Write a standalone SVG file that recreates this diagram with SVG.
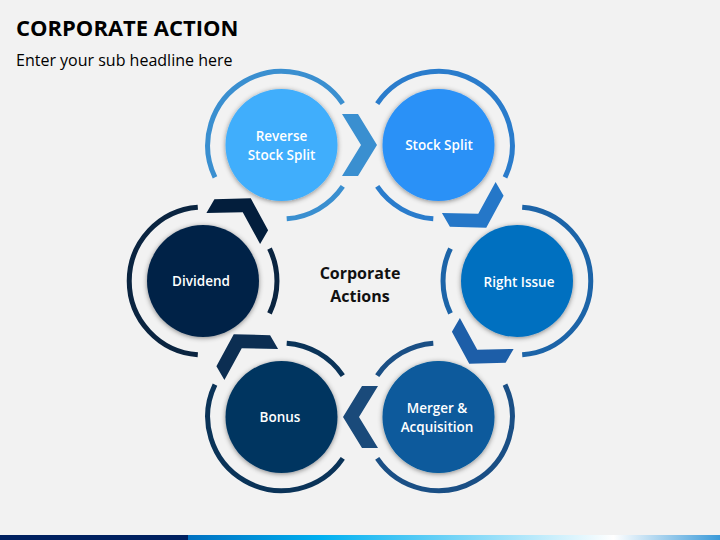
<svg xmlns="http://www.w3.org/2000/svg" width="720" height="540" viewBox="0 0 720 540">
<defs>
<style>
.ring{fill:none;stroke-width:5}
.lbl{font-family:"Open Sans","Liberation Sans",sans-serif;font-weight:600;font-size:13.5px;fill:#fff;text-anchor:middle}
.ctr{font-family:"Open Sans","Liberation Sans",sans-serif;font-weight:700;font-size:16px;fill:#111;text-anchor:middle}
</style>
<filter id="sh" x="-20%" y="-20%" width="140%" height="140%"><feDropShadow dx="0" dy="1" stdDeviation="2.5" flood-color="#000" flood-opacity="0.45"/></filter>
<polygon id="chev" points="-18,-31 -2,-31 17,0 -2,31 -18,31 1,0"/>
<linearGradient id="bar" x1="0" x2="1" y1="0" y2="0">
<stop offset="0" stop-color="#0070c0"/><stop offset="0.25" stop-color="#00b0f0"/><stop offset="0.8" stop-color="#ffffff"/><stop offset="1" stop-color="#3a9ad9"/>
</linearGradient>
</defs>
<rect width="720" height="540" fill="#f2f2f2"/>
<text x="16" y="36" font-family="Open Sans,Liberation Sans,sans-serif" font-weight="700" font-size="22" fill="#000">CORPORATE ACTION</text>
<text x="16" y="66" font-family="Open Sans,Liberation Sans,sans-serif" font-size="16" fill="#000">Enter your sub headline here</text>
<g id="connectors">
<use href="#chev" transform="translate(360,145)" fill="#3a8fd0"/>
<use href="#chev" transform="translate(477.75,213) rotate(60)" fill="#2577c8"/>
<use href="#chev" transform="translate(477.75,349) rotate(120)" fill="#1d5ea8"/>
<use href="#chev" transform="translate(360,417) rotate(180)" fill="#1a4a7a"/>
<use href="#chev" transform="translate(242.25,349) rotate(240)" fill="#0c2e52"/>
<use href="#chev" transform="translate(242.25,213) rotate(300)" fill="#031e3c"/>
</g>
<g id="reverse-stock-split">
<path class="ring" stroke="#3a8fd0" d="M215,177.4 A74,74 0 0 1 342.8,103.6 M342.8,186.4 A74,74 0 0 1 286.7,218.8"/>
<circle cx="281.5" cy="145" r="56" fill="#40aefc" filter="url(#sh)"/>
<text class="lbl" x="281.5" y="141">Reverse</text><text class="lbl" x="281.5" y="160">Stock Split</text>
</g>
<g id="stock-split">
<path class="ring" stroke="#2a7ccc" d="M377.2,103.6 A74,74 0 0 1 505,177.4 M433.3,218.8 A74,74 0 0 1 377.2,186.4"/>
<circle cx="438.5" cy="145" r="56" fill="#2b91f7" filter="url(#sh)"/>
<text class="lbl" x="439" y="150">Stock Split</text>
</g>
<g id="right-issue">
<path class="ring" stroke="#1c64a8" d="M522.2,207.2 A74,74 0 0 1 522.2,354.8 M450.5,313.4 A74,74 0 0 1 450.5,248.6"/>
<circle cx="517" cy="281" r="56" fill="#0070c0" filter="url(#sh)"/>
<text class="lbl" x="519" y="287">Right Issue</text>
</g>
<g id="merger-acquisition">
<path class="ring" stroke="#1a4f85" d="M505,384.6 A74,74 0 0 1 377.2,458.4 M377.2,375.6 A74,74 0 0 1 433.3,343.2"/>
<circle cx="438.5" cy="417" r="56" fill="#075a9c" filter="url(#sh)"/>
<text class="lbl" x="437" y="413">Merger &amp;</text><text class="lbl" x="437" y="432">Acquisition</text>
</g>
<g id="bonus">
<path class="ring" stroke="#0a3358" d="M342.8,458.4 A74,74 0 0 1 215,384.6 M286.7,343.2 A74,74 0 0 1 342.8,375.6"/>
<circle cx="281.5" cy="417" r="56" fill="#003660" filter="url(#sh)"/>
<text class="lbl" x="280" y="422">Bonus</text>
</g>
<g id="dividend">
<path class="ring" stroke="#0a2440" d="M197.8,354.8 A74,74 0 0 1 197.8,207.2 M269.5,248.6 A74,74 0 0 1 269.5,313.4"/>
<circle cx="203" cy="281" r="56" fill="#002347" filter="url(#sh)"/>
<text class="lbl" x="201" y="286">Dividend</text>
</g>
<g id="center">
<text class="ctr" x="360" y="279">Corporate</text><text class="ctr" x="360" y="302">Actions</text>
</g>
<rect x="0" y="535" width="188" height="5" fill="#002060"/>
<rect x="188" y="535" width="532" height="5" fill="url(#bar)"/>
</svg>
